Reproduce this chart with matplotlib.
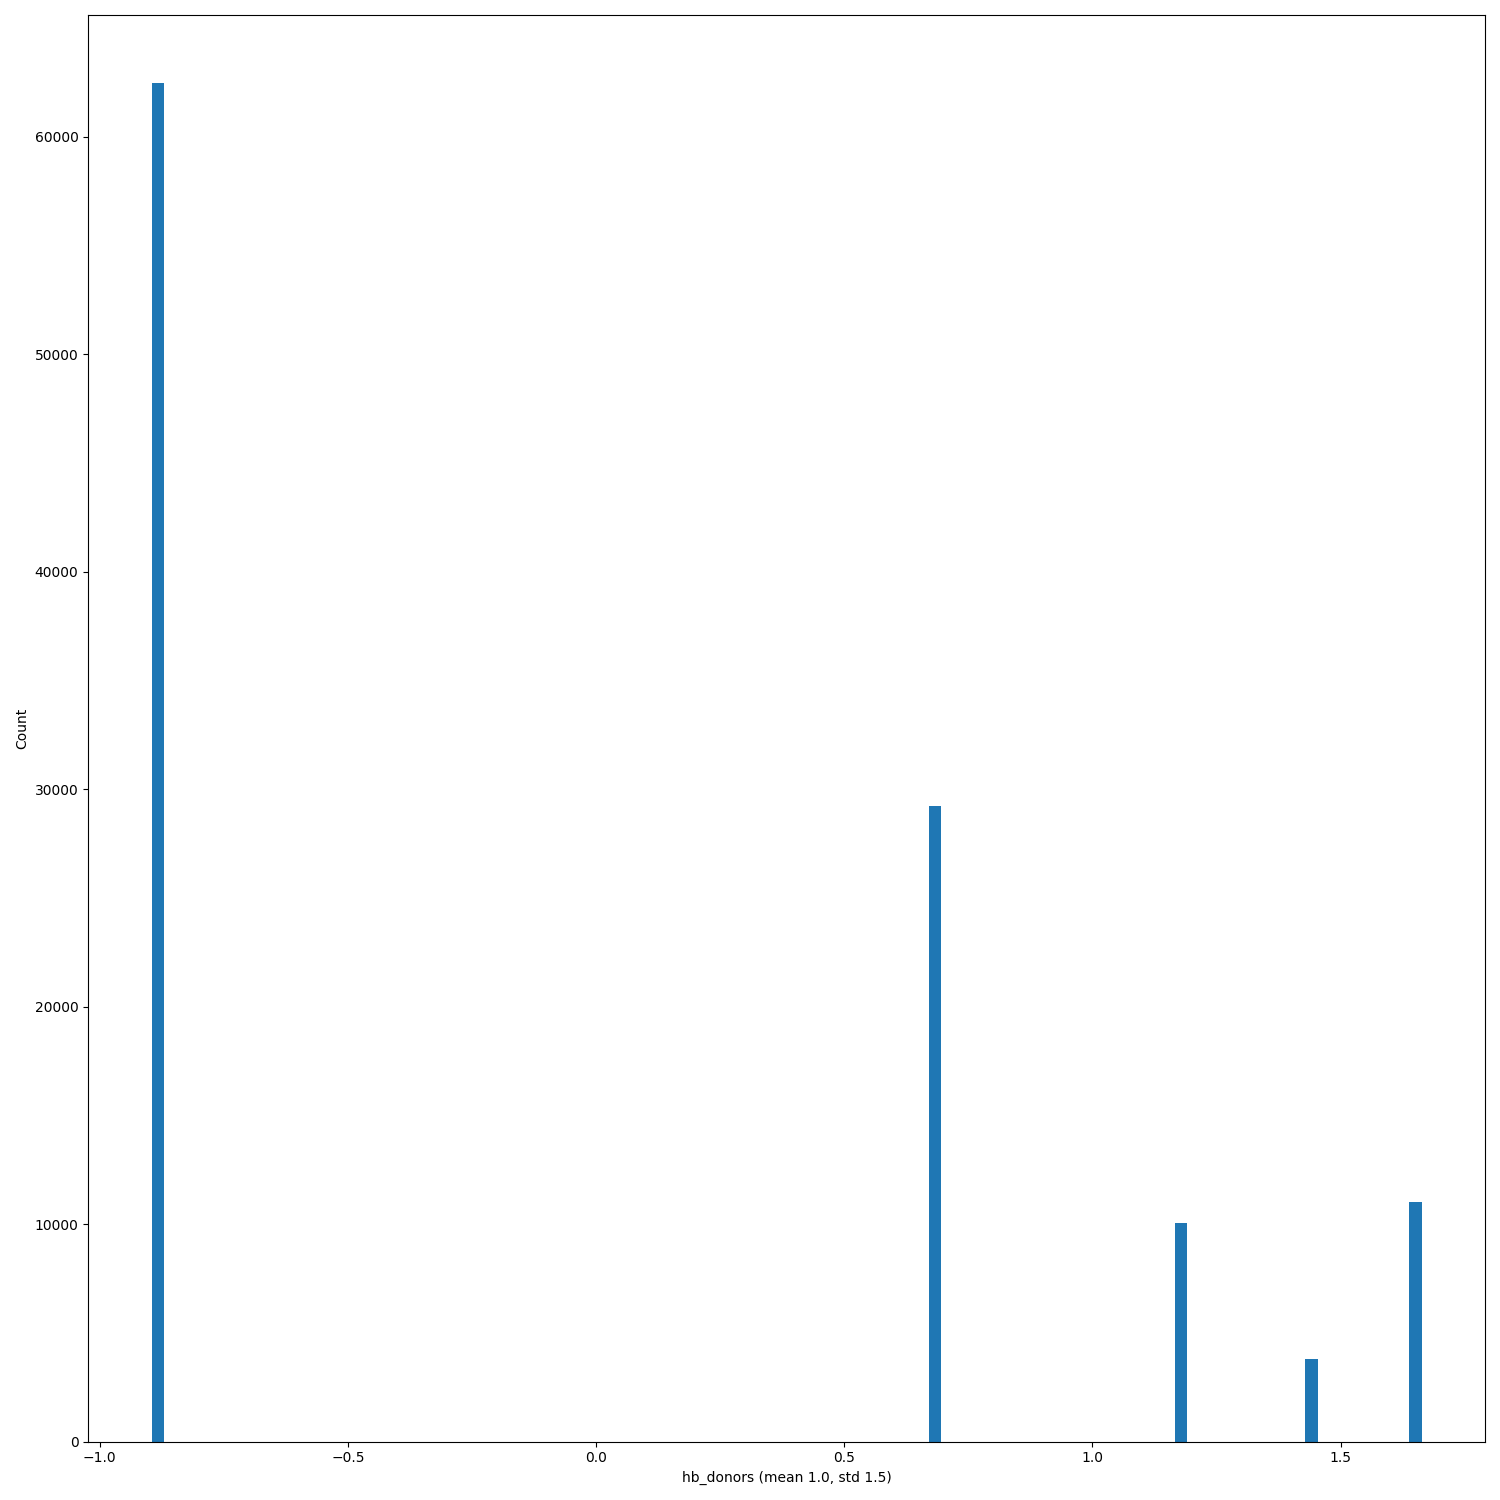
import matplotlib
matplotlib.use("Agg")
import matplotlib.pyplot as plt

# bar left edges (hb_donors, scaled) and counts
lefts = [-0.8952, 0.6700, 1.1656, 1.4275, 1.6370]
counts = [62470, 29220, 10030, 3820, 11000]
bin_width = 0.0258

fig, ax = plt.subplots(figsize=(15, 15), dpi=100)
ax.bar(lefts, counts, width=bin_width, align='edge', color='#1f77b4')
ax.set_xlabel('hb_donors (mean 1.0, std 1.5)')
ax.set_ylabel('Count')

plt.tight_layout()
plt.savefig('out.png')
